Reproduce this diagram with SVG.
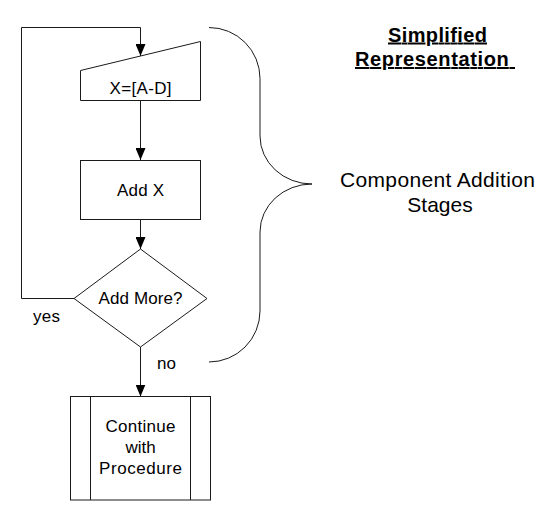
<svg xmlns="http://www.w3.org/2000/svg" width="553" height="520" viewBox="0 0 553 520">
<style>
.shape{fill:#fff;stroke:#1a1a1a;stroke-width:1}
.conn{fill:none;stroke:#1a1a1a;stroke-width:1}
.t{font-family:"Liberation Sans",Arial,sans-serif;font-size:17px;fill:#000}
.c{text-anchor:middle}
.big{font-family:"Liberation Sans",Arial,sans-serif;font-size:21px;fill:#000;text-anchor:middle}
.title{font-family:"Liberation Sans",Arial,sans-serif;font-size:20px;font-weight:bold;fill:#000;text-decoration:underline}
</style>
<defs>
<marker id="arr" viewBox="0 0 12 10" refX="12" refY="5" markerWidth="12" markerHeight="10" markerUnits="userSpaceOnUse" orient="auto">
<path d="M0,0 L12,5 L0,10 z" fill="#000"/>
</marker>
</defs>
<rect width="553" height="520" fill="#fff"/>

<g id="connectors">
<polyline class="conn" points="74,298.5 21.5,298.5 21.5,27.5 140.5,27.5 140.5,56" marker-end="url(#arr)"/>
<line class="conn" x1="140.5" y1="100.5" x2="140.5" y2="160" marker-end="url(#arr)"/>
<line class="conn" x1="140.5" y1="219.5" x2="140.5" y2="249" marker-end="url(#arr)"/>
<line class="conn" x1="140.5" y1="347" x2="140.5" y2="396.5" marker-end="url(#arr)"/>
<text class="t" x="33" y="322" textLength="27">yes</text>
<text class="t" x="157" y="369" textLength="19">no</text>
</g>

<g id="node-input">
<polygon class="shape" points="80.5,70.5 200.5,41.5 200.5,100.5 80.5,100.5"/>
<text class="t c" x="140.5" y="94" textLength="62">X=[A-D]</text>
</g>

<g id="node-add">
<rect class="shape" x="80.5" y="160.5" width="120" height="59"/>
<text class="t c" x="140.5" y="196" textLength="47">Add X</text>
</g>

<g id="node-decision">
<polygon class="shape" points="140.5,249 207,298.5 140.5,347 74,298.5"/>
<text class="t c" x="140.5" y="304" textLength="84">Add More?</text>
</g>

<g id="node-continue">
<rect class="shape" x="70.5" y="396.5" width="140" height="103.5"/>
<line class="conn" x1="90.5" y1="396.5" x2="90.5" y2="500"/>
<line class="conn" x1="190.5" y1="396.5" x2="190.5" y2="500"/>
<text class="t c" x="140.5" y="432" textLength="70">Continue</text>
<text class="t c" x="140.5" y="453">with</text>
<text class="t c" x="140.5" y="474" textLength="83">Procedure</text>
</g>

<g id="brace">
<path class="conn" d="M209,27.5 A51,51 0 0 1 260,78.5 L260,136 A52,48 0 0 0 312,184 A52,48 0 0 0 260,232 L260,311 A51,51 0 0 1 209,362"/>
</g>

<g id="label-stages">
<text class="big" x="437.5" y="187" textLength="195">Component Addition</text>
<text class="big" x="440" y="212">Stages</text>
</g>

<g id="title">
<text class="title" x="388" y="41.5" textLength="99">Simplified</text>
<text class="title" x="355" y="66" xml:space="preserve" textLength="160">Representation </text>
</g>
</svg>
